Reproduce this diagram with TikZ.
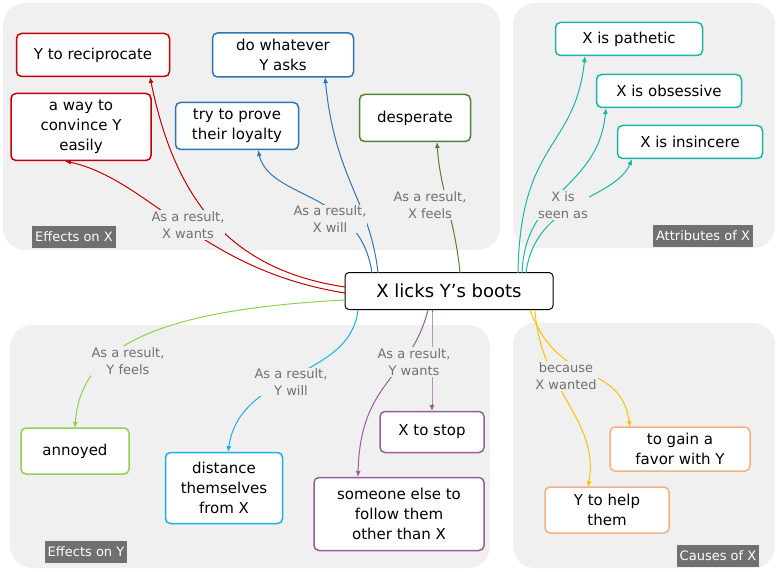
\documentclass[tikz,border=0pt]{standalone}
\usepackage{fontspec}
\setmainfont{DejaVu Sans}
\usetikzlibrary{arrows.meta}
\begin{document}
\definecolor{pan}{HTML}{F0F0F0}
\definecolor{tg}{HTML}{707070}
\definecolor{cr}{HTML}{C00000}
\definecolor{cb}{HTML}{2E75B6}
\definecolor{cg}{HTML}{548235}
\definecolor{ct}{HTML}{19B5A5}
\definecolor{cl}{HTML}{92D050}
\definecolor{cc}{HTML}{1AAFE6}
\definecolor{cp}{HTML}{9B5C9E}
\definecolor{co}{HTML}{FFC000}
\definecolor{cob}{HTML}{F4B183}
\begin{tikzpicture}[x=1pt,y=-1pt,
 panel/.style={fill=pan,rounded corners=22pt},
 tag/.style={fill=tg,text=white,font=\fontsize{13}{15}\selectfont,inner sep=3pt,minimum height=22pt,anchor=center},
 box/.style={draw=#1,line width=1.5pt,fill=white,rounded corners=5pt,align=center,font=\fontsize{15}{20}\selectfont,inner sep=2pt},
 lab/.style={fill=pan,text=tg,align=center,font=\fontsize{13}{17}\selectfont,inner sep=1pt},
 con/.style={draw=#1,line width=1pt,-{Latex[length=6pt,width=5pt]}}]
\useasboundingbox (0,0) rectangle (779,572);
\fill[panel] (3,3) rectangle (500,250);
\fill[panel] (513,3) rectangle (775,248);
\fill[panel] (10,325) rectangle (490,568);
\fill[panel] (513,323) rectangle (775,568);
\node[tag] (t1) at (74,237) {Effects on X};
\node[tag] (t2) at (703,236) {Attributes of X};
\node[tag] (t3) at (86,552) {Effects on Y};
\node[tag] (t4) at (718,556) {Causes of X};
% nodes
\node[box=cr,minimum width=153pt,minimum height=43pt] (n1) at (93,55) {Y to reciprocate};
\node[box=cr,minimum width=140pt,minimum height=67pt] (n2) at (81,127) {a way to\\convince Y\\easily};
\node[box=cb,minimum width=141pt,minimum height=44pt] (n3) at (283,55) {do whatever\\Y asks};
\node[box=cb,minimum width=123pt,minimum height=47pt] (n4) at (237,126) {try to prove\\their loyalty};
\node[box=cg,minimum width=111pt,minimum height=47pt] (n5) at (415,118) {desperate};
\node[box=ct,minimum width=147pt,minimum height=33pt] (n6) at (629,39) {X is pathetic};
\node[box=ct,minimum width=145pt,minimum height=33pt] (n7) at (669,91) {X is obsessive};
\node[box=ct,minimum width=145pt,minimum height=33pt] (n8) at (690,142) {X is insincere};
\node[box=cl,minimum width=108pt,minimum height=46pt] (n9) at (75,451) {annoyed};
\node[box=cc,minimum width=117pt,minimum height=71pt] (n10) at (224,488) {distance\\themselves\\from X};
\node[box=cp,minimum width=104pt,minimum height=41pt] (n11) at (432,432) {X to stop};
\node[box=cp,minimum width=170pt,minimum height=73pt] (n12) at (399,514) {someone else to\\follow them\\other than X};
\node[box=cob,minimum width=140pt,minimum height=44pt] (n13) at (680,449) {to gain a\\favor with Y};
\node[box=cob,minimum width=124pt,minimum height=46pt] (n14) at (607,510) {Y to help\\them};
% center
\node[draw=black,line width=1pt,fill=white,rounded corners=4pt,minimum width=208pt,minimum height=37pt,font=\fontsize{18}{21}\selectfont] (c) at (449,291) {X licks Y’s boots};
\coordinate (cA) at (345,287); \coordinate (cB) at (345,293);
% connectors
\draw[con=cr] (cA) .. controls (230,270) and (175,200) .. (150,77);
\draw[con=cr] (cB) .. controls (200,270) and (150,180) .. (65,161);
\draw[con=cb] (378,273) .. controls (370,200) and (335,180) .. (325,77);
\draw[con=cb] (372,273) .. controls (360,190) and (270,200) .. (258,150);
\draw[con=cg] (460,273) .. controls (455,220) and (440,190) .. (437,142);
\draw[con=ct] (518,273) .. controls (520,140) and (575,150) .. (585,56);
\draw[con=ct] (522,273) .. controls (525,190) and (598,190) .. (606,108);
\draw[con=ct] (526,273) .. controls (535,200) and (615,200) .. (632,159);
\draw[con=cl] (345,300) .. controls (150,310) and (80,350) .. (75,428);
\draw[con=cc] (358,310) .. controls (350,380) and (240,370) .. (228,452);
\draw[con=cp] (432,310) .. controls (432,360) and (432,380) .. (432,411);
\draw[con=cp] (428,310) .. controls (410,380) and (360,380) .. (358,477);
\draw[con=co] (530,310) .. controls (560,390) and (620,360) .. (630,427);
\draw[con=co] (535,310) .. controls (540,390) and (600,420) .. (588,487);
% labels
\node[lab] (l1) at (188,225) {As a result,\\X wants};
\node[lab] (l2) at (330,219) {As a result,\\X will};
\node[lab] (l3) at (430,205) {As a result,\\X feels};
\node[lab] (l4) at (563,205) {X is\\seen as};
\node[lab] (l5) at (128,361) {As a result,\\Y feels};
\node[lab] (l6) at (291,382) {As a result,\\Y will};
\node[lab] (l7) at (414,362) {As a result,\\Y wants};
\node[lab] (l8) at (566,376) {because\\X wanted};
\end{tikzpicture}
\end{document}
